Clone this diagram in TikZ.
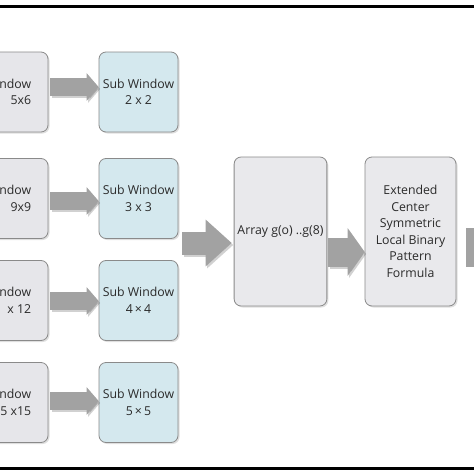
\documentclass[tikz,border=0pt]{standalone}
\usepackage{fontspec}
\setmainfont{Open Sans}
\usetikzlibrary{arrows.meta,shadows}
\definecolor{arrgray}{HTML}{A2A2A2}
\definecolor{lfill}{HTML}{E6E6EA}
\definecolor{sfill}{HTML}{D4E8EE}
\definecolor{bfill}{HTML}{E9E9EC}
\definecolor{edge}{HTML}{8A8A8A}
\definecolor{txt}{HTML}{2A2A2A}
% from-anchor, x offset, to-anchor, x offset, y, shaft, head width, head length
\newcommand\blockarrow[8]{%
  \path (#1 |- 0,#5) ++(#2,0) coordinate (baA);
  \path (#3 |- 0,#5) ++(#4,0) coordinate (baB);
  \draw[black,opacity=0.18,line width=#6pt,-{Triangle[width=#7pt,length=#8pt]}]
    ([shift={(1.5,2)}]baA) -- ([shift={(1.5,2)}]baB);
  \draw[arrgray,line width=#6pt,-{Triangle[width=#7pt,length=#8pt]}] (baA) -- (baB);
}
\begin{document}
\begin{tikzpicture}[x=1pt,y=-1pt,
  box/.style={draw=edge,line width=0.8pt,rounded corners=7pt,text=txt,
    font=\fontsize{12.3}{16.5}\selectfont,
    drop shadow={shadow xshift=1.5pt,shadow yshift=-1.5pt,opacity=0.25}},
  lbox/.style={box,fill=lfill,minimum width=80pt,minimum height=80pt,align=right},
  sbox/.style={box,fill=sfill,minimum width=79pt,minimum height=80pt,align=center},
  bbox/.style={box,fill=bfill,minimum width=91pt,minimum height=149pt,align=center},
  rule/.style={fill=black}]
\useasboundingbox (0,0) rectangle (474,474);
\clip (0,0) rectangle (474,474);
\fill[white] (0,0) rectangle (474,474);
\fill[rule] (0,5) rectangle (474,8);
\fill[rule] (0,467) rectangle (474,470);

\node[lbox] (l1) at (8,92)    {Window\\5x6\hspace{5pt}};
\node[lbox] (l2) at (8,198.5) {Window\\9x9\hspace{7pt}};
\node[lbox] (l3) at (8,300.5) {Window\\12\hspace{8pt}x 12\hspace{4pt}};
\node[lbox] (l4) at (8,402.5) {Window\\15 x15\hspace{5pt}};

\node[sbox] (s1) at (138.5,92)    {Sub Window\\2 x 2};
\node[sbox] (s2) at (138.5,198.5) {Sub Window\\3 x 3};
\node[sbox] (s3) at (138.5,300.5) {Sub Window\\4\,×\,4};
\node[sbox] (s4) at (138.5,402.5) {Sub Window\\5\,×\,5};

\node[bbox] (arr) at (280.5,231.5) {Array g(o) ..g(8)};
\node[bbox] (f) at (410.5,231.5) {Extended\\Center\\Symmetric\\Local Binary\\Pattern\\Formula};
\coordinate (out) at (500,247.5);

\blockarrow{l1.east}{2}{s1.west}{0}{87}{18}{27}{12}
\blockarrow{l2.east}{2}{s2.west}{0}{201}{18}{27}{12}
\blockarrow{l3.east}{2}{s3.west}{0}{301}{18}{27}{12}
\blockarrow{l4.east}{2}{s4.west}{0}{401}{18}{27}{12}
\blockarrow{s2.east}{4}{arr.west}{-2}{243}{23}{45}{26}
\blockarrow{arr.east}{1}{f.west}{0}{252}{29}{47}{17}
\path (f.east |- 0,247.5) ++(10,0) coordinate (fo);
\draw[arrgray,line width=39pt] (fo) -- (out);
\end{tikzpicture}
\end{document}
